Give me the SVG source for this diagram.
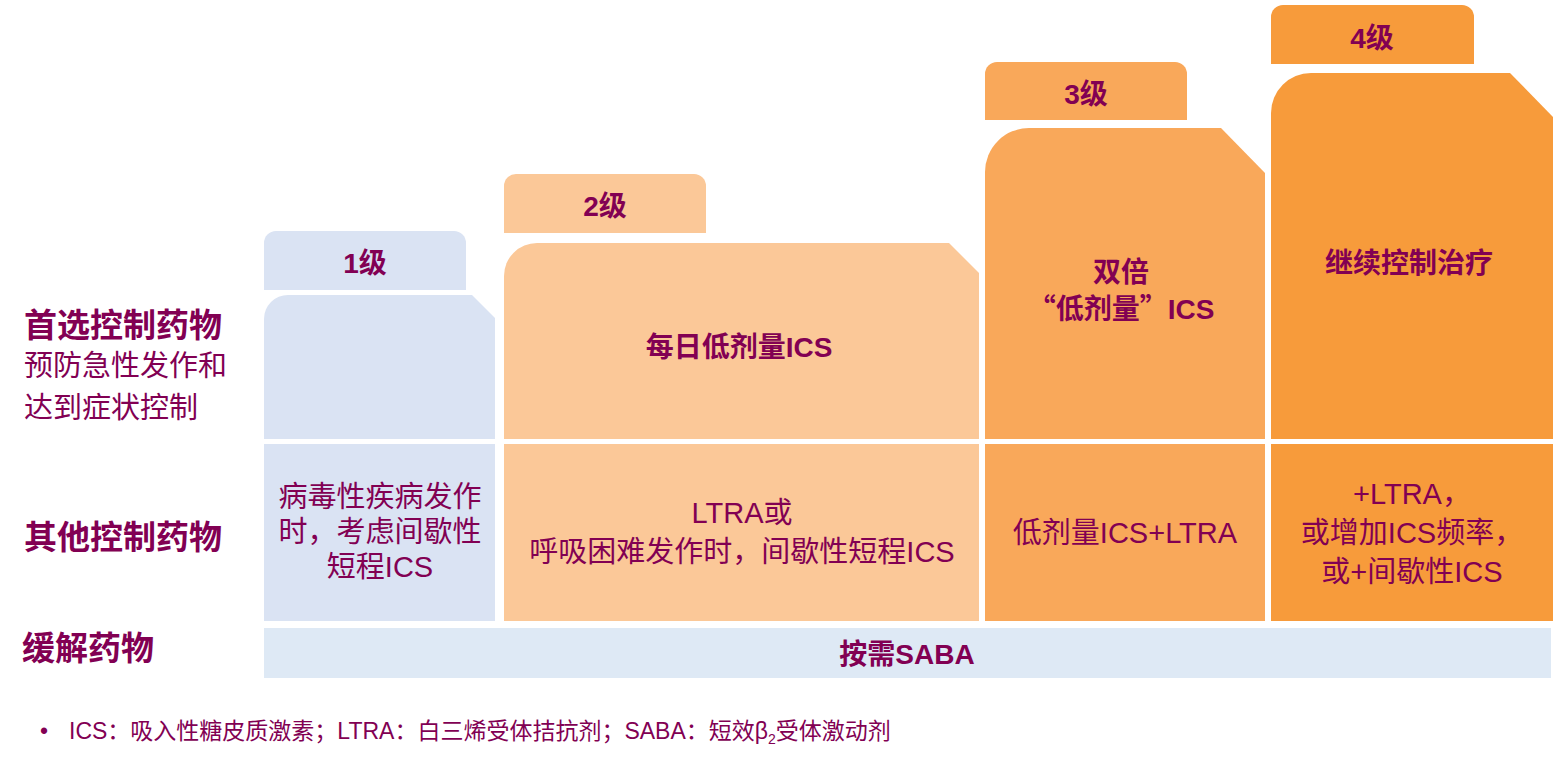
<svg xmlns="http://www.w3.org/2000/svg" width="1558" height="760" viewBox="0 0 1558 760">
<style>
text{font-family:"Liberation Sans","Noto Sans CJK SC",sans-serif;fill:#820053;}
.q{font-family:"Noto Sans CJK SC",sans-serif;}
.c{text-anchor:middle;}
.t{font-size:28px;font-weight:bold;text-anchor:middle;}
.cell{font-size:29px;text-anchor:middle;}
.hd{font-size:33px;font-weight:bold;}
.l1{fill:#dae3f3;}
.l2{fill:#fbc898;}
.l3{fill:#f9a85a;}
.l4{fill:#f79b3b;}
.bar{fill:#dee9f5;}
</style>
<rect width="1558" height="760" fill="#ffffff"/>
<g id="row-labels">
<text class="hd" x="24" y="337">首选控制药物</text>
<text x="24" y="376" font-size="29">预防急性发作和</text>
<text x="24" y="418" font-size="29">达到症状控制</text>
<text class="hd" x="24" y="549">其他控制药物</text>
<text class="hd" x="22" y="660">缓解药物</text>
</g>
<g id="step1">
<path class="l1" d="M264,290 V243 A12,12 0 0 1 276,231 H454 A12,12 0 0 1 466,243 V290 Z"/>
<text class="t" x="365" y="273">1级</text>
<path class="l1" d="M264,439 V319 A24,24 0 0 1 288,295 H472 L495,318 V439 Z"/>
<rect class="l1" x="264" y="444" width="231" height="177"/>
<text class="cell" x="380" y="507">病毒性疾病发作</text>
<text class="cell" x="380" y="542">时，考虑间歇性</text>
<text class="cell" x="380" y="577">短程ICS</text>
</g>
<g id="step2">
<path class="l2" d="M504,233 V186 A12,12 0 0 1 516,174 H694 A12,12 0 0 1 706,186 V233 Z"/>
<text class="t" x="605" y="216">2级</text>
<path class="l2" d="M504,439 V276 A33,33 0 0 1 537,243 H949 L979,273 V439 Z"/>
<text class="t" x="739" y="357" font-size="29">每日低剂量ICS</text>
<rect class="l2" x="504" y="444" width="475" height="177"/>
<text class="cell" x="742" y="523">LTRA或</text>
<text class="cell" x="742" y="562">呼吸困难发作时，间歇性短程ICS</text>
</g>
<g id="step3">
<path class="l3" d="M985,120 V74 A12,12 0 0 1 997,62 H1175 A12,12 0 0 1 1187,74 V120 Z"/>
<text class="t" x="1086" y="104">3级</text>
<path class="l3" d="M985,439 V172 A44,44 0 0 1 1029,128 H1221 L1265,173 V439 Z"/>
<text class="t" x="1121" y="282">双倍</text>
<text class="t" x="1121" y="319"><tspan class="q">“</tspan>低剂量<tspan class="q">”</tspan>ICS</text>
<rect class="l3" x="985" y="444" width="280" height="177"/>
<text class="cell" x="1125" y="543">低剂量ICS+LTRA</text>
</g>
<g id="step4">
<path class="l4" d="M1271,64 V17 A12,12 0 0 1 1283,5 H1462 A12,12 0 0 1 1474,17 V64 Z"/>
<text class="t" x="1372" y="48">4级</text>
<path class="l4" d="M1271,439 V113 A40,40 0 0 1 1311,73 H1510 L1553,117 V439 Z"/>
<text class="t" x="1409" y="273" font-size="29">继续控制治疗</text>
<rect class="l4" x="1271" y="444" width="282" height="177"/>
<text class="cell" x="1412" y="504">+LTRA，</text>
<text class="cell" x="1412" y="543">或增加ICS频率，</text>
<text class="cell" x="1412" y="582">或+间歇性ICS</text>
</g>
<g id="reliever">
<rect class="bar" x="264" y="628" width="1287" height="50"/>
<text class="t" x="907" y="664">按需SABA</text>
</g>
<g id="connectors"></g>
<g id="footnote">
<text x="40" y="739" font-size="23">•</text>
<text x="69" y="739" font-size="23">ICS：吸入性糖皮质激素；LTRA：白三烯受体拮抗剂；SABA：短效β<tspan font-size="14" dy="5">2</tspan><tspan dy="-5">受体激动剂</tspan></text>
</g>
</svg>
